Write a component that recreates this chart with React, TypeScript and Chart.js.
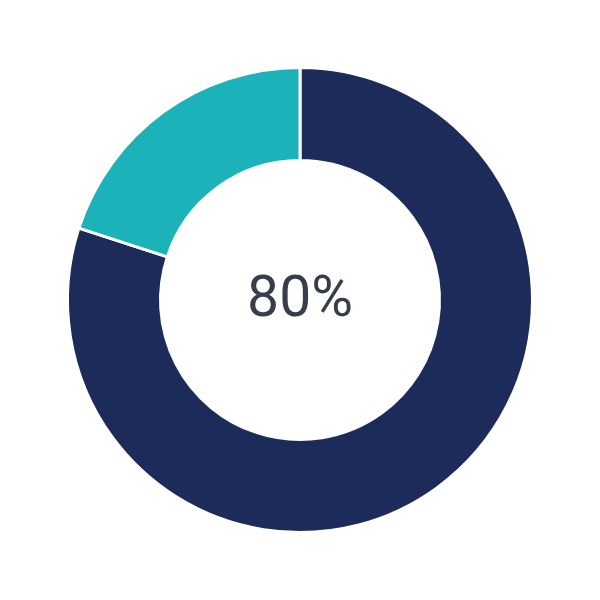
import React, { useEffect, useRef } from "react";
import { Chart, registerables } from "chart.js";

Chart.register(...registerables);

const labels = ["Yes", "No"];
const values = [80, 20];
const colors = ["#1c2b5a", "#1bb3b9"];
const centerText = "80%";

const centerPlugin = {
  id: "centerText",
  afterDraw(chart: any) {
    const { ctx, chartArea } = chart;
    const x = (chartArea.left + chartArea.right) / 2;
    const y = (chartArea.top + chartArea.bottom) / 2;
    ctx.save();
    ctx.font = "400 57px Roboto";
    ctx.fillStyle = "#373d49";
    ctx.textAlign = "center";
    ctx.textBaseline = "alphabetic";
    ctx.fillText(centerText, x, y + 16);
    ctx.restore();
  },
};

export default function App() {
  const ref = useRef<HTMLCanvasElement>(null);
  useEffect(() => {
    const chart = new Chart(ref.current!, {
      type: "doughnut",
      data: {
        labels,
        datasets: [
          {
            data: values,
            backgroundColor: colors,
            borderColor: "#ffffff",
            borderWidth: 3,
          },
        ],
      },
      options: {
        animation: false,
        responsive: false,
        cutout: "60%",
        layout: { padding: 66 },
        plugins: { legend: { display: false }, tooltip: { enabled: false } },
      },
      plugins: [centerPlugin],
    });
    return () => chart.destroy();
  }, []);
  return (
    <div style={{ position: "fixed", left: 0, top: 0, width: 600, height: 600, background: "#fff" }}>
      <canvas ref={ref} width={600} height={600} style={{ width: 600, height: 600 }} />
    </div>
  );
}
